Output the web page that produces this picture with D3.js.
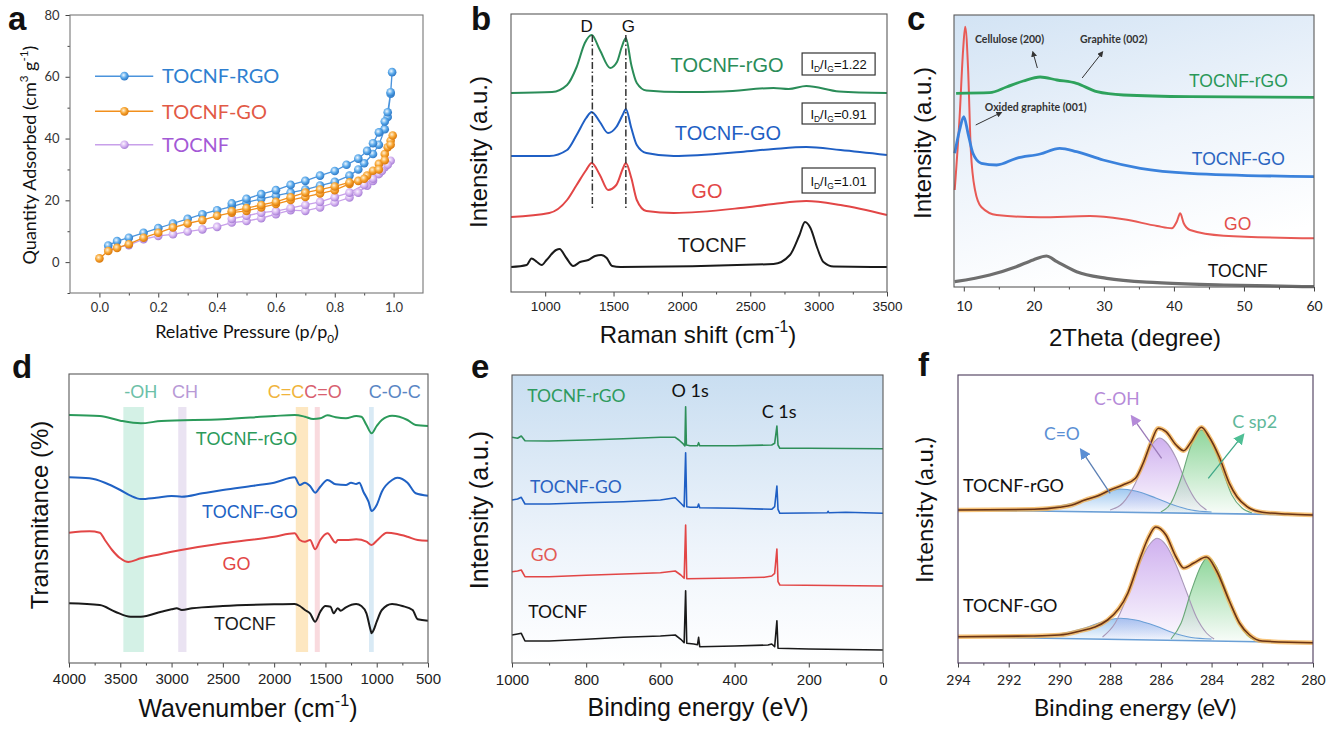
<!DOCTYPE html>
<meta charset="utf-8">
<style>
  body { margin: 0; background: #fff; }
</style>
<script src="https://d3js.org/d3.v7.min.js"></script>
<body>
<script>

// ---------- data ----------
// (a) N2 isotherms  [p/p0, cm3/g]
var rgoAds = [[0.03,5.4],[0.06,6.8],[0.1,7.9],[0.15,9.5],[0.2,11],[0.25,12.5],[0.3,14],[0.35,15.5],[0.4,16.8],[0.45,18],[0.5,19.3],[0.55,20.5],[0.6,21.5],[0.65,22.5],[0.7,23.5],[0.75,24.8],[0.8,26],[0.85,28],[0.88,30],[0.9,32],[0.93,35],[0.95,38],[0.97,43],[0.98,47],[0.99,54.5],[0.995,61.5]];
var rgoDes = [[0.99,55],[0.98,48.5],[0.97,45.5],[0.95,42],[0.93,38.5],[0.91,36],[0.88,33.5],[0.84,31.5],[0.8,29.5],[0.75,28],[0.7,26.3],[0.65,25],[0.6,23.3],[0.55,22],[0.5,20.5],[0.45,19]];
var goAds = [[0,1.2],[0.03,3.6],[0.06,4.6],[0.1,5.8],[0.15,7.9],[0.2,9.5],[0.25,11.2],[0.3,12.5],[0.35,13.6],[0.4,15],[0.45,16],[0.5,16.6],[0.55,17.7],[0.6,18.8],[0.65,20.1],[0.7,21.1],[0.75,22.2],[0.8,23.3],[0.85,25.3],[0.88,26.3],[0.91,28],[0.93,29.6],[0.95,31.8],[0.97,35],[0.98,37.2],[0.99,39.3],[0.997,41]];
var goDes = [[0.99,38],[0.97,33],[0.95,30],[0.9,27],[0.85,25.8],[0.8,24.5],[0.75,23.5],[0.7,22.5],[0.65,21],[0.6,19.5],[0.55,18.5],[0.5,17.5],[0.45,16.5]];
var cnfAds = [[0.03,4.1],[0.1,5.5],[0.15,7.4],[0.2,8.5],[0.25,9],[0.3,9.9],[0.35,10.6],[0.4,11.4],[0.45,12.8],[0.5,13.3],[0.55,14.2],[0.6,15.5],[0.65,16.8],[0.7,16.6],[0.75,17.7],[0.8,19.3],[0.85,20.9],[0.88,22.5],[0.91,24.7],[0.93,26.3],[0.95,28.5],[0.97,30.7],[0.99,32.8]];
var cnfDes = [[0.98,31.5],[0.96,29.5],[0.93,27],[0.9,25],[0.85,22.5],[0.8,21],[0.75,19.5],[0.7,18.5],[0.65,17.5],[0.6,16.5],[0.55,16],[0.5,15],[0.45,14]];
var aNames = ["TOCNF-RGO", "TOCNF-GO", "TOCNF"];
var aXTicks = [0, 0.2, 0.4, 0.6, 0.8, 1.0];
var aYTicks = [0, 20, 40, 60, 80];

// (b) Raman  [cm-1, a.u.]
var ramanRGO = [[750,199],[1050,200],[1160,207],[1230,225],[1290,249],[1340,257],[1400,242],[1475,224],[1525,230],[1560,245],[1590,254],[1630,227],[1670,209],[1740,201.5],[2000,200],[2300,200.5],[2670,204],[2780,203],[2910,206],[3150,200.5],[3500,199]];
var ramanGOc = [[750,136],[1030,136],[1160,142],[1230,157],[1300,174],[1340,180],[1400,170],[1460,159],[1520,165],[1570,178],[1590,183],[1630,164],[1670,147],[1740,139],[1940,136],[2430,140],[2670,143],[2910,145],[3160,142],[3500,137]];
var ramanGO = [[750,75],[1030,79],[1160,92],[1230,107],[1300,122],[1340,129],[1400,117],[1460,102],[1520,107],[1570,124],[1590,129],[1630,114],[1670,92],[1740,81],[1940,79],[2430,84],[2670,88],[2910,91],[3160,87],[3500,77]];
var ramanCNF = [[750,25],[865,27],[900,33.5],[940,30],[975,27],[1010,32],[1080,42],[1105,43],[1155,34],[1205,26],[1255,30],[1315,32],[1365,36],[1410,37],[1450,34],[1490,26],[1550,25],[2670,28],[2790,37],[2860,57],[2900,70],[2940,64],[2990,44],[3035,30],[3110,25.5],[3500,25]];
var ramanRatios = ["1.22", "0.91", "1.01"];
var peakD = 1345, peakG = 1590;
var bXTicks = [1000, 1500, 2000, 2500, 3000, 3500];

// (c) XRD  [2theta, a.u.]
var xrdRGO = [[8.9,193.7],[13.7,194.3],[16.1,200],[18.5,206],[20.9,210],[23.3,207],[26.1,203.7],[29,195.3],[32.8,192],[42.3,190.3],[60,189.7]];
var xrdGOc = [[8.7,133.7],[9.4,157],[10,170.3],[10.6,153.7],[11.3,133.7],[12.5,123.7],[14.7,122],[17.5,128.7],[20.9,133],[23.7,138.7],[26.1,135.3],[29.9,127],[35.2,118.7],[42.3,113.7],[60,110.3]];
var xrdGO = [[8.7,97],[9.4,170],[9.9,237],[10.2,260.3],[10.6,220],[11,137],[11.6,97],[12.5,80],[14.7,72],[20.9,69.7],[28,71],[32.8,67.7],[37.6,61],[39.7,58.7],[40.4,65.3],[40.9,73.7],[41.4,63.7],[42.3,57],[47.1,51.3],[60,48.7]];
var xrdCNF = [[8.7,5.3],[13.7,12],[17.5,20.3],[19.9,27],[21.8,31],[23.3,25.3],[26.1,15.3],[30.4,8.7],[37.6,4.3],[47.1,2],[60,0.3]];
var cXTicks = [10, 20, 30, 40, 50, 60];

// (d) FTIR  [cm-1, transmittance a.u.]
var irRGO = [[4000,248],[3700,247],[3500,242.3],[3300,239.7],[3100,242],[2500,243.7],[2000,247],[1800,248],[1700,246.3],[1620,244],[1550,244.7],[1480,247.7],[1400,245.7],[1300,244.7],[1200,247],[1150,246.3],[1100,238],[1050,229.7],[1000,237],[950,243],[850,247.3],[700,243],[620,238],[500,237]];
var irGOc = [[4000,185.7],[3800,184.7],[3650,180.3],[3500,173],[3400,167.3],[3300,164],[3150,165.3],[3000,167],[2900,166.3],[2700,169.7],[2500,173],[2200,177.3],[2000,180.3],[1800,185.7],[1750,178],[1700,180.3],[1650,177],[1600,170.3],[1550,176.3],[1480,183],[1400,178.7],[1300,178],[1250,180.3],[1200,179],[1170,180.3],[1130,171.3],[1080,161.3],[1050,152],[1000,158],[950,171.3],[850,183],[800,185.3],[700,180.3],[620,169.7],[500,167.3]];
var irGO = [[4000,130.3],[3800,131.7],[3700,130.3],[3650,123],[3580,113],[3500,104.7],[3420,101],[3300,104.7],[3100,109],[3000,111.3],[2500,119.7],[2000,126.3],[1800,129.7],[1750,123],[1700,121.3],[1650,123],[1600,113.7],[1550,123],[1480,129.7],[1400,120.3],[1380,123],[1300,123],[1200,123.7],[1100,121.3],[1050,118],[1000,122.3],[900,130.3],[800,129],[700,126.3],[600,123],[500,122.3]];
var irCNF = [[4000,59.7],[3700,58],[3550,51.3],[3400,46.3],[3300,46.3],[3100,51.3],[3000,53.7],[2950,54.7],[2900,53],[2800,54.7],[2500,57],[2000,58.7],[1800,59],[1750,57],[1700,53],[1650,49.7],[1600,41.3],[1550,51.3],[1500,57],[1450,56.3],[1420,49.7],[1380,54.7],[1350,52.3],[1300,55.7],[1200,59],[1150,57],[1100,49.7],[1060,33],[1050,29.7],[1030,33],[1000,41.3],[950,53],[850,59],[750,57],[650,53],[600,43.7],[500,42.3]];
var irBands = [[3470,3270],[2935,2855],[1789,1669],[1604,1555],[1075,1029]];
var irBandNames = ["-OH", "CH", "C=C", "C=O", "C-O-C"];
var dXTicks = [4000, 3500, 3000, 2500, 2000, 1500, 1000, 500];

// (e) XPS survey  [eV, a.u.]
var xpsRGO = [[1000,225.7],[985,224.7],[975,227],[965,222.3],[900,222],[800,223],[700,224.3],[600,225.7],[560,225.7],[550,223],[540,219.7],[534,217],[532,256.3],[530,218],[520,217.3],[500,217.3],[497,220.3],[494,217.3],[400,217.3],[300,218],[292,219.7],[286,237],[283,218],[278,214.7],[200,214.7],[0,214.3]];
var xpsGOc = [[1000,163],[985,164],[975,165.7],[965,159],[900,159],[800,160.3],[700,161.3],[600,163],[560,165.3],[545,159.7],[536,156.3],[532,210.3],[529,156.3],[520,155.7],[500,155.7],[497,159],[494,155.3],[400,154.7],[300,153.7],[292,156.3],[286,177],[283,153.7],[278,149.7],[150,150.3],[148,151.7],[146,150.3],[100,150.7],[0,149.7]];
var xpsGO = [[1000,91.3],[985,92],[975,93],[965,86.3],[900,86.3],[800,87.7],[700,89],[600,90.3],[560,92],[545,88],[536,84.7],[532,138],[529,84.3],[400,85],[320,85.7],[300,87],[292,89.7],[286,114],[283,81.3],[278,78],[0,77]];
var xpsCNF = [[1000,28],[985,29],[975,29.7],[965,22],[900,22],[800,23.7],[700,25.7],[600,27],[560,28],[545,23.7],[536,20.3],[532,72.3],[529,19.7],[510,19],[500,18.3],[497,25.7],[494,16.3],[400,17],[310,18],[300,19],[292,16.3],[286,42.3],[283,14.7],[200,14],[0,13]];
var eXTicks = [1000, 800, 600, 400, 200, 0];

// (f) C1s fits  [eV, a.u.]
var c1sRgoEnv = [[294,153],[291,153.7],[290,155.7],[289.5,158],[289,163],[288.5,167],[288,173],[287.5,178],[287,184.7],[286.7,199.7],[286.4,219.7],[286.1,234.7],[285.8,231.3],[285.4,218],[285.1,212.3],[284.8,221.3],[284.4,235.7],[284.1,226.3],[283.7,206.3],[283.3,179.7],[283,166.3],[282.6,156.3],[282,150.7],[281,149],[280,148]];
var c1sRgoCO = [[291,153.5],[290,157],[289,163],[288.2,170],[287.6,174],[287,172],[286.2,165],[285.5,158],[284.8,153],[284,151]];
var c1sRgoCOH = [[288,153],[287.5,160],[287,180],[286.6,205],[286.3,220],[286.05,225],[285.8,221],[285.4,205],[285,180],[284.6,162],[284.2,153]];
var c1sRgoSp2 = [[286,151],[285.6,160],[285.2,185],[284.8,218],[284.4,233],[284,222],[283.6,195],[283.2,168],[282.8,155],[282.4,150]];
var c1sRgoBase = [[294,153],[280,148]];
var c1sGoEnv = [[294,26.3],[291,27],[290,28],[289.3,31.3],[288.1,43],[287.3,70],[286.8,106],[286.5,125],[286.2,136],[285.8,128],[285.4,106],[285.1,95],[284.7,100],[284.2,106],[283.8,92],[283.3,62],[282.9,40],[282.5,28],[282,22],[280,20.3]];
var c1sGoCO = [[291,26.5],[290,29],[289,35],[288.2,42],[287.6,44.7],[287,43],[286.2,37],[285.5,30],[284.8,25.5],[284,24]];
var c1sGoCOH = [[288.3,26],[287.8,40],[287.3,68],[286.8,102],[286.4,120],[286.15,124.7],[285.8,118],[285.4,98],[285,72],[284.6,46],[284.2,30],[283.9,24]];
var c1sGoSp2 = [[285.6,24],[285.2,40],[284.8,72],[284.4,98],[284.15,105.7],[283.8,96],[283.4,70],[283,44],[282.6,28],[282.3,23]];
var c1sGoBase = [[294,26.3],[280,20.3]];
var fXTicks = [294, 292, 290, 288, 286, 284, 282, 280];

// ---------- helpers ----------
var SANS = "'Liberation Sans', Arial, sans-serif";
var CAL = "Lato, 'Open Sans', sans-serif";

var svg = d3.select("body").append("svg").attr("width", 1336).attr("height", 740);
var defs = svg.append("defs");

function panel(l, t, r, b, xDom, yDom) {
  var g = svg.append("g").attr("transform", "translate(" + l + "," + t + ")");
  var w = r - l, h = b - t;
  return { g: g, w: w, h: h,
    x: d3.scaleLinear().domain(xDom).range([0, w]),
    y: d3.scaleLinear().domain(yDom).range([h, 0]) };
}

function xAxis(p, major, font, size, pad, fmt) {
  var step = major[1] - major[0];
  var minor = major.slice(0, -1).map(function(v) { return v + step / 2; });
  var m = p.g.append("g").attr("transform", "translate(0," + p.h + ")")
    .call(d3.axisBottom(p.x).tickValues(minor).tickSize(2.5).tickFormat(""));
  var ax = p.g.append("g").attr("transform", "translate(0," + p.h + ")")
    .call(d3.axisBottom(p.x).tickValues(major).tickSize(4.5).tickPadding(pad).tickFormat(fmt || d3.format("d")));
  ax.attr("font-family", font).attr("font-size", size);
  [m, ax].forEach(function(s) { s.select(".domain").remove(); s.selectAll("line").attr("stroke", "#444"); });
  ax.selectAll("text").attr("fill", "#222");
  return ax;
}

function frame(p, color) {
  p.g.append("rect").attr("width", p.w).attr("height", p.h)
    .attr("fill", "none").attr("stroke", color || "#5a5a5a").attr("stroke-width", 1.1);
}

function trace(p, data, color, width, curve) {
  return p.g.append("path").datum(data)
    .attr("fill", "none").attr("stroke", color).attr("stroke-width", width)
    .attr("stroke-linejoin", "round")
    .attr("d", d3.line().x(function(d) { return p.x(d[0]); }).y(function(d) { return p.y(d[1]); })
      .curve(curve || d3.curveMonotoneX));
}

// text with optional sub/superscripts: parts = [[str, "sup"|"sub"|null], ...]
function rich(sel, parts) {
  var shift = 0;
  parts.forEach(function(pt) {
    var t = sel.append("tspan").text(pt[0]);
    var want = pt[1] == "sup" ? -0.45 : pt[1] == "sub" ? 0.25 : 0;
    var fs = pt[1] ? 0.65 : 1;
    t.attr("dy", ((want - shift) / fs) + "em");
    if (pt[1]) t.attr("font-size", "65%");
    shift = want;
  });
  return sel;
}

function text(g, x, y, str, font, size, color, anchor) {
  return g.append("text").attr("x", x).attr("y", y).text(str)
    .attr("font-family", font).attr("font-size", size).attr("fill", color || "#111")
    .attr("text-anchor", anchor || "start");
}

function ytitle(x, y, parts, font, size) {
  var t = svg.append("text").attr("transform", "translate(" + x + "," + y + ") rotate(-90)")
    .attr("text-anchor", "middle").attr("font-family", font).attr("font-size", size).attr("fill", "#111");
  return rich(t, parts);
}
function xtitle(x, y, parts, font, size) {
  var t = svg.append("text").attr("x", x).attr("y", y)
    .attr("text-anchor", "middle").attr("font-family", font).attr("font-size", size).attr("fill", "#111");
  return rich(t, parts);
}

function marker(id, color, size) {
  defs.append("marker").attr("id", id).attr("viewBox", "0 0 10 10")
    .attr("refX", 6).attr("refY", 5).attr("markerWidth", size).attr("markerHeight", size)
    .attr("orient", "auto").attr("markerUnits", "userSpaceOnUse")
    .append("path").attr("d", "M0,0 L10,5 L0,10 Z").attr("fill", color);
}

function arrow(p, from, to, color, width, id) {
  p.g.append("line")
    .attr("x1", p.x(from[0])).attr("y1", p.y(from[1]))
    .attr("x2", p.x(to[0])).attr("y2", p.y(to[1]))
    .attr("stroke", color).attr("stroke-width", width).attr("marker-end", "url(#" + id + ")");
}

// panel letters
[["a", 8, 30], ["b", 471, 30], ["c", 907, 30], ["d", 12, 378], ["e", 471, 378], ["f", 918, 376]].forEach(function(l) {
  svg.append("text").attr("x", l[1]).attr("y", l[2]).text(l[0])
    .attr("font-family", SANS).attr("font-weight", "bold").attr("font-size", 33).attr("fill", "#111");
});

// ---------- (a) ----------
var a = panel(70, 15, 423, 293, [-0.1, 1.1], [-10, 80]);
var aColors = [
  { line: "#4a93dc", c0: "#eef7ff", c1: "#5aa9ea", c2: "#2f79c6", text: "#2f7fd0" },
  { line: "#f28f1c", c0: "#fff1d6", c1: "#f7a531", c2: "#d9780c", text: "#e25a46" },
  { line: "#c8a0ea", c0: "#fbf4ff", c1: "#d6b5f1", c2: "#a87fd6", text: "#a45ad6" }
];
aColors.forEach(function(c, i) {
  var rg = defs.append("radialGradient").attr("id", "ball" + i).attr("cx", "40%").attr("cy", "38%").attr("r", "62%");
  rg.append("stop").attr("offset", "0%").attr("stop-color", c.c0);
  rg.append("stop").attr("offset", "55%").attr("stop-color", c.c1);
  rg.append("stop").attr("offset", "100%").attr("stop-color", c.c2);
});
var aSeries = [[rgoAds, rgoDes], [goAds, goDes], [cnfAds, cnfDes]];
[2, 0, 1].forEach(function(i) {
  var pts = aSeries[i][0].concat(aSeries[i][1]);
  trace(a, pts, aColors[i].line, 1.3, d3.curveLinear);
  a.g.selectAll(".pt" + i).data(pts).enter().append("circle")
    .attr("cx", function(d) { return a.x(d[0]); }).attr("cy", function(d) { return a.y(d[1]); })
    .attr("r", 4.3).attr("fill", "url(#ball" + i + ")");
});
// legend
aNames.forEach(function(n, i) {
  var yy = a.y([60.2, 48.8, 38][i]);
  a.g.append("line").attr("x1", a.x(-0.015)).attr("x2", a.x(0.183)).attr("y1", yy).attr("y2", yy)
    .attr("stroke", aColors[i].line).attr("stroke-width", 1.5);
  a.g.append("circle").attr("cx", a.x(0.085)).attr("cy", yy).attr("r", 4.3).attr("fill", "url(#ball" + i + ")");
  text(a.g, a.x(0.213), yy, n, CAL, 20, aColors[i].text).attr("dy", "0.36em");
});
var aAx = xAxis(a, aXTicks, CAL, 13, 5, d3.format(".1f"));
aAx.selectAll("text").attr("fill", "#333");
var aMinY = a.g.append("g").call(d3.axisLeft(a.y).tickValues([-10, 10, 30, 50, 70]).tickSize(2.5).tickFormat(""));
var aLeft = a.g.append("g").call(d3.axisLeft(a.y).tickValues(aYTicks).tickSize(4.5).tickPadding(6));
aLeft.attr("font-family", CAL).attr("font-size", 13);
[aMinY, aLeft].forEach(function(s) { s.select(".domain").remove(); s.selectAll("line").attr("stroke", "#444"); });
aLeft.selectAll("text").attr("fill", "#333");
frame(a, "#777");
xtitle(247, 338, [["Relative Pressure (p/p", null], ["0", "sub"], [")", null]], CAL, 18);
ytitle(36, 155, [["Quantity Adsorbed (cm", null], ["3", "sup"], [" g", null], ["-1", "sup"], [")", null]], CAL, 18);

// ---------- (b) ----------
var b = panel(511, 14, 887, 292, [750, 3500], [0, 278]);
var bColors = ["#2a8c58", "#1f5fc4", "#e24646", "#1a1a1a"];
[ramanCNF, ramanGO, ramanGOc, ramanRGO].forEach(function(s, i) {
  trace(b, s, bColors[3 - i], 2);
});
[peakD, peakG].forEach(function(v) {
  trace(b, [[v, 257], [v, 82]], "#333", 1.5, d3.curveLinear).attr("stroke-dasharray", "7,2.5,1.5,2.5");
});
text(b.g, b.x(1304), b.y(260), "D", SANS, 17, "#111", "middle");
text(b.g, b.x(1608), b.y(260), "G", SANS, 17, "#111", "middle");
text(b.g, b.x(2330), b.y(220), "TOCNF-rGO", SANS, 20, bColors[0], "middle");
text(b.g, b.x(2337), b.y(152), "TOCNF-GO", SANS, 20, bColors[1], "middle");
text(b.g, b.x(2183), b.y(94), "GO", SANS, 20, bColors[2], "middle");
text(b.g, b.x(2220), b.y(40), "TOCNF", SANS, 20, bColors[3], "middle");
[[239, 217], [189, 168], [124, 99]].forEach(function(r, i) {
  var x0 = b.x(2879), x1 = b.x(3413);
  b.g.append("rect").attr("x", x0).attr("y", b.y(r[0])).attr("width", x1 - x0).attr("height", b.y(r[1]) - b.y(r[0]))
    .attr("fill", "#fff").attr("stroke", "#333").attr("stroke-width", 1.2);
  var t = text(b.g, (x0 + x1) / 2, (b.y(r[0]) + b.y(r[1])) / 2 + 5, "", SANS, 13, "#111", "middle");
  rich(t, [["I", null], ["D", "sub"], ["/I", null], ["G", "sub"], ["=" + ramanRatios[i], null]]);
});
xAxis(b, bXTicks, SANS, 13.5, 4.5);
frame(b);
xtitle(698, 343, [["Raman shift (cm", null], ["-1", "sup"], [")", null]], SANS, 24);
ytitle(487, 152, [["Intensity (a.u.)", null]], SANS, 24);

// ---------- (c) ----------
var c = panel(954, 15, 1314, 287, [8.6, 60], [0, 272]);
var gc = defs.append("linearGradient").attr("id", "bgC").attr("x1", 0).attr("y1", 0).attr("x2", 0.35).attr("y2", 1);
gc.append("stop").attr("offset", "0%").attr("stop-color", "#d2e3f4");
gc.append("stop").attr("offset", "55%").attr("stop-color", "#eef4fb");
gc.append("stop").attr("offset", "100%").attr("stop-color", "#ffffff");
c.g.append("rect").attr("width", c.w).attr("height", c.h).attr("fill", "url(#bgC)");
var cColors = ["#2ea25c", "#3b82dc", "#e85a55", "#6e6e6e"];
trace(c, xrdCNF, cColors[3], 3.2);
trace(c, xrdGO, cColors[2], 2);
trace(c, xrdGOc, cColors[1], 2.8);
trace(c, xrdRGO, cColors[0], 2.8);
text(c.g, c.x(49.2), c.y(200), "TOCNF-rGO", SANS, 17.5, "#2a9858", "middle");
text(c.g, c.x(49.2), c.y(122), "TOCNF-GO", SANS, 17.5, "#2a64c0", "middle");
text(c.g, c.x(49.1), c.y(57), "GO", SANS, 17.5, "#e24e4a", "middle");
text(c.g, c.x(49.1), c.y(10), "TOCNF", SANS, 17.5, "#111", "middle");
marker("arrC", "#333", 6);
text(c.g, c.x(11.6), c.y(243.7), "Cellulose (200)", CAL, 10.5, "#333").attr("font-weight", "bold");
text(c.g, c.x(26.6), c.y(243.7), "Graphite (002)", CAL, 10.5, "#333").attr("font-weight", "bold");
text(c.g, c.x(13), c.y(176.3), "Oxided graphite (001)", CAL, 10.5, "#333").attr("font-weight", "bold");
arrow(c, [20.5, 219], [19.9, 234], "#333", 1, "arrC");
arrow(c, [26.9, 209], [29.7, 234], "#333", 1, "arrC");
arrow(c, [11.7, 162], [15.2, 174], "#333", 1, "arrC");
xAxis(c, cXTicks, CAL, 14, 9.5);
frame(c);
xtitle(1135, 346, [["2Theta (degree)", null]], SANS, 24);
ytitle(931, 143, [["Intensity (a.u.)", null]], SANS, 24);

// ---------- (d) ----------
var d = panel(69, 374, 428, 663, [4000, 500], [0, 289]);
var bandFill = ["#cdeee2", "#e6def0", "#fde3b6", "#f8d4d8", "#d2e6f3"];
var bandText = ["#6cc0a8", "#b89ad6", "#f0b43c", "#d8606f", "#5a86c4"];
irBands.forEach(function(r, i) {
  d.g.append("rect").attr("x", d.x(r[0])).attr("width", d.x(r[1]) - d.x(r[0]))
    .attr("y", d.y(256)).attr("height", d.y(11) - d.y(256)).attr("fill", bandFill[i]).attr("opacity", 0.85);
});
var dColors = ["#2b9a5a", "#2062c4", "#e24646", "#1a1a1a"];
trace(d, irCNF, dColors[3], 2);
trace(d, irGO, dColors[2], 2);
trace(d, irGOc, dColors[1], 2);
trace(d, irRGO, dColors[0], 2);
text(d.g, d.x(3300), d.y(264.7), irBandNames[0], SANS, 18, bandText[0], "middle");
text(d.g, d.x(2870), d.y(264.7), irBandNames[1], SANS, 18, bandText[1], "middle");
var cc = text(d.g, d.x(2062), d.y(264.7), "", SANS, 18, "#000");
cc.append("tspan").text(irBandNames[2]).attr("fill", bandText[2]);
cc.append("tspan").text(irBandNames[3]).attr("fill", bandText[3]);
text(d.g, d.x(824), d.y(264.7), irBandNames[4], SANS, 18, bandText[4], "middle");
text(d.g, d.x(2269), d.y(218), "TOCNF-rGO", SANS, 18, dColors[0], "middle");
text(d.g, d.x(2237), d.y(145), "TOCNF-GO", SANS, 18, dColors[1], "middle");
text(d.g, d.x(2366), d.y(93), "GO", SANS, 18, dColors[2], "middle");
text(d.g, d.x(2286), d.y(33), "TOCNF", SANS, 18, dColors[3], "middle");
xAxis(d, dXTicks, SANS, 15, 5.5);
frame(d);
xtitle(248, 717, [["Wavenumber (cm", null], ["-1", "sup"], [")", null]], SANS, 25);
ytitle(48, 515, [["Transmitance (%)", null]], SANS, 24);

// ---------- (e) ----------
var e = panel(512, 375, 883, 663, [1000, 0], [0, 288]);
var ge = defs.append("linearGradient").attr("id", "bgE").attr("x1", 0).attr("y1", 0).attr("x2", 0).attr("y2", 1);
ge.append("stop").attr("offset", "0%").attr("stop-color", "#c9def1");
ge.append("stop").attr("offset", "60%").attr("stop-color", "#eef4fb");
ge.append("stop").attr("offset", "100%").attr("stop-color", "#ffffff");
e.g.append("rect").attr("width", e.w).attr("height", e.h).attr("fill", "url(#bgE)");
var eColors = ["#2e8f5a", "#1f5fc4", "#e24646", "#1a1a1a"];
trace(e, xpsCNF, eColors[3], 1.6, d3.curveLinear);
trace(e, xpsGO, eColors[2], 1.6, d3.curveLinear);
trace(e, xpsGOc, eColors[1], 1.6, d3.curveLinear);
trace(e, xpsRGO, eColors[0], 1.6, d3.curveLinear);
text(e.g, e.x(958.8), e.y(261.3), "TOCNF-rGO", CAL, 17.5, "#2e9a5e");
text(e.g, e.x(951.5), e.y(169.7), "TOCNF-GO", CAL, 17.5, "#2a62c2");
text(e.g, e.x(949.6), e.y(102.3), "GO", CAL, 17.5, "#e25a55");
text(e.g, e.x(956), e.y(44.7), "TOCNF", CAL, 17.5, "#111");
text(e.g, e.x(520), e.y(266.3), "O 1s", CAL, 18, "#111", "middle");
text(e.g, e.x(280), e.y(244.7), "C 1s", CAL, 18, "#111", "middle");
xAxis(e, eXTicks, SANS, 15, 7);
frame(e);
xtitle(698, 716, [["Binding energy (eV)", null]], SANS, 25);
ytitle(488, 510, [["Intensity (a.u.)", null]], SANS, 25);

// ---------- (f) ----------
var f = panel(958, 375, 1313, 663, [294, 280], [0, 288]);
var fComp = [
  { id: "gCO", fill: "#8fbfee", line: "#6a9fd6" },
  { id: "gCOH", fill: "#c7a3ec", line: "#a898b8" },
  { id: "gSp2", fill: "#7ccf8a", line: "#6aa878" }
];
fComp.forEach(function(k) {
  var lg = defs.append("linearGradient").attr("id", k.id).attr("x1", 0).attr("y1", 0).attr("x2", 0).attr("y2", 1);
  lg.append("stop").attr("offset", "0%").attr("stop-color", k.fill).attr("stop-opacity", 0.85);
  lg.append("stop").attr("offset", "100%").attr("stop-color", k.fill).attr("stop-opacity", 0.05);
});
function fitSet(comps, base, env) {
  var bl = d3.scaleLinear().domain(base.map(function(p) { return p[0]; })).range(base.map(function(p) { return p[1]; }));
  comps.forEach(function(s, i) {
    f.g.append("path").datum(s).attr("fill", "url(#" + fComp[i].id + ")")
      .attr("d", d3.area().x(function(p) { return f.x(p[0]); })
        .y0(function(p) { return f.y(bl(p[0])); }).y1(function(p) { return f.y(p[1]); })
        .curve(d3.curveMonotoneX));
  });
  comps.forEach(function(s, i) { trace(f, s, fComp[i].line, 1.1); });
  trace(f, base, "#6a9fd6", 1.6, d3.curveLinear);
  trace(f, env, "#f4b04e", 4.5).attr("opacity", 0.75);
  trace(f, env, "#6b3415", 1.6);
}
fitSet([c1sRgoCO, c1sRgoCOH, c1sRgoSp2], c1sRgoBase, c1sRgoEnv);
fitSet([c1sGoCO, c1sGoCOH, c1sGoSp2], c1sGoBase, c1sGoEnv);
marker("arrCO", "#5b8fd4", 11);
marker("arrCOH", "#b48ad8", 11);
marker("arrSp2", "#4fbf95", 11);
arrow(f, [288.0, 169.7], [289.1, 211.3], "#5b7fb4", 1.3, "arrCO");
arrow(f, [285.97, 204.7], [287.09, 244.7], "#9a7ab8", 1.3, "arrCOH");
arrow(f, [284.13, 184.7], [282.81, 226.3], "#3fa888", 1.3, "arrSp2");
text(f.g, f.x(287.74), f.y(258), "C-OH", CAL, 17.5, "#b58ad8", "middle");
text(f.g, f.x(289.9), f.y(223), "C=O", CAL, 17.5, "#5b8fd4", "middle");
text(f.g, f.x(282.3), f.y(234.7), "C sp2", CAL, 18, "#5fb89a", "middle");
text(f.g, f.x(293.8), f.y(171.3), "TOCNF-rGO", CAL, 18, "#111");
text(f.g, f.x(293.8), f.y(51.3), "TOCNF-GO", CAL, 18, "#111");
xAxis(f, fXTicks, CAL, 14, 7.5);
frame(f, "#4a3a5a");
xtitle(1135, 716, [["Binding energy (eV)", null]], CAL, 24);
ytitle(933, 510, [["Intensity (a.u.)", null]], CAL, 24);

</script>
</body>
